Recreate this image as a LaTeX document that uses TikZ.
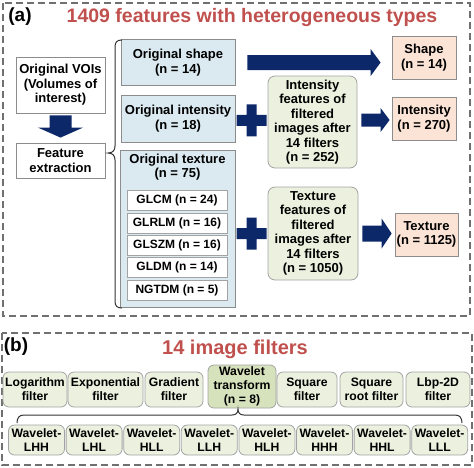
\documentclass[tikz,border=0pt]{standalone}
\usepackage{fontspec}
\setmainfont{Liberation Sans}
\usetikzlibrary{calc}
\definecolor{navy}{HTML}{0C2868}
\definecolor{titlered}{HTML}{C0504D}
\definecolor{lblue}{HTML}{DBEAF1}
\definecolor{peach}{HTML}{FBE4D6}
\definecolor{lgreen}{HTML}{EBF1DE}
\definecolor{dgreen}{HTML}{D5E2BC}
\definecolor{boxgray}{HTML}{8C8C8C}
\definecolor{framegray}{HTML}{707070}
\newcommand\harrow[5]{\fill[navy] let \p1=(#1), \p2=(#2) in
  (\x1,\y1+#3) -- (\x2-#5,\y1+#3) -- (\x2-#5,\y1+#4) -- (\x2,\y1) --
  (\x2-#5,\y1-#4) -- (\x2-#5,\y1-#3) -- (\x1,\y1-#3) -- cycle;}
\newcommand\plussign[1]{\fill[navy] let \p1=(#1) in
  (\x1-5pt,\y1+16pt) rectangle (\x1+5pt,\y1-16pt)
  (\x1-15pt,\y1+5.5pt) rectangle (\x1+15pt,\y1-5.5pt);}
\begin{document}
\begin{tikzpicture}[x=1pt,y=-1pt,
  every node/.style={font=\fontsize{13}{14.5}\selectfont\bfseries, align=center, inner sep=0.5pt},
  sz/.style 2 args={minimum width=#1pt, minimum height=#2pt},
  bluebox/.style={draw=boxgray, fill=lblue, line width=0.8pt},
  whitebox/.style={draw=boxgray, fill=white, line width=0.8pt},
  subbox/.style={draw=boxgray!80, fill=white, line width=0.8pt, font=\fontsize{12}{14}\selectfont\bfseries},
  peachbox/.style={draw=boxgray, fill=peach, line width=0.8pt},
  greenbox/.style={draw=boxgray!80, fill=lgreen, line width=0.8pt, rounded corners=7pt},
  bfont/.style={font=\fontsize{12.2}{14.2}\selectfont\bfseries},
  filterbox/.style={draw=boxgray!80, fill=lgreen, line width=0.8pt, rounded corners=6pt, sz={#1}{35}, bfont},
  wavbox/.style={draw=boxgray!80, fill=lgreen, line width=0.8pt, rounded corners=6pt, sz={56}{30}, bfont},
  frame/.style={draw=framegray, line width=2pt, dash pattern=on 7pt off 4pt},
  bracec/.style={draw=black!80, line width=1pt},
  title/.style={font=\fontsize{19.5}{22}\selectfont\bfseries, text=titlered},
  panellabel/.style={font=\fontsize{19}{21}\selectfont\bfseries}
]
\useasboundingbox (0,0) rectangle (474,467);

% panel frames
\draw[frame] (3,3) rectangle (470,316);
\draw[frame] (2,333) rectangle (472,465);

% ---------- panel (a)
\node[panellabel] (la) at (20,17) {(a)};
\node[title] (ta) at (252,17) {1409 features with heterogeneous types};

\node[whitebox, sz={89}{56}] (voi) at (60.5,85) {Original VOIs\\(Volumes of\\interest)};
\node[whitebox, sz={89}{35}] (feat) at (60.5,160.5) {Feature\\extraction};
\fill[navy] let \p1=(voi.south), \p2=(feat.north) in
  (\x1-11pt,\y1-2pt) -- (\x1-11pt,\y2+15pt) -- (\x1-22.5pt,\y2+15pt) -- (\x1,\y2+5pt) --
  (\x1+22.5pt,\y2+15pt) -- (\x1+11pt,\y2+15pt) -- (\x1+11pt,\y1-2pt) -- cycle;

\node[bluebox, sz={114}{46}] (oshape) at (178,62.5) {Original shape\\(n = 14)};
\node[bluebox, sz={114}{47}] (oint) at (178,118.5) {Original intensity\\(n = 18)};
\node[bluebox, sz={115}{157}] (otex) at (177.5,228.5) {};
\node (textitle) at (177.5,167) {Original texture\\(n = 75)};
\node[subbox, sz={100}{20}] (glcm) at (177,200.5) {GLCM (n = 24)};
\node[subbox, sz={100}{20}] (glrlm) at (177,223) {GLRLM (n = 16)};
\node[subbox, sz={100}{20}] (glszm) at (177,245) {GLSZM (n = 16)};
\node[subbox, sz={100}{20}] (gldm) at (177,267.5) {GLDM (n = 14)};
\node[subbox, sz={100}{20}] (ngtdm) at (177,290) {NGTDM (n = 5)};

% brace
\draw[bracec] (122,40) .. controls (117,40) and (115,42) .. (115,47) -- (115,146)
  .. controls (115,150) and (113,153) .. (108,153)
  .. controls (113,153) and (115,156) .. (115,160) -- (115,301)
  .. controls (115,306) and (117,308) .. (122,308);

\node[greenbox, sz={89}{92}] (intf) at (312.5,122) {Intensity\\features of\\filtered\\images after\\14 filters\\(n = 252)};
\node[greenbox, sz={90}{93}] (texf) at (313,233.5) {Texture\\features of\\filtered\\images after\\14 filters\\(n = 1050)};

\node[peachbox, sz={64}{43}] (shape) at (424,57.5) {Shape\\(n = 14)};
\node[peachbox, sz={64}{43}] (intensity) at (424,118.5) {Intensity\\(n = 270)};
\node[peachbox, sz={63}{43}] (texture) at (426.5,234.5) {Texture\\(n = 1125)};

\harrow{$(oshape.east)+(12,0)$}{$(shape.west)+(-11,0)$}{7.5pt}{13.5pt}{10pt}
\plussign{$(oint.east)!0.5!(intf.west)$}
\plussign{$(otex.east |- texf.west)!0.5!(texf.west)$}
\harrow{$(intf.east)+(4,-2)$}{$(intensity.west)+(-2,0)$}{6.5pt}{12pt}{9pt}
\harrow{$(texf.east)+(4,0)$}{$(texture.west)+(-3,0)$}{8pt}{15pt}{10pt}

% ---------- panel (b)
\node[panellabel] (lb) at (16,347) {(b)};
\node[title, font=\fontsize{20}{23}\selectfont\bfseries] (tb) at (235,349) {14 image filters};

\node[filterbox=64] (flog) at (35,389.5) {Logarithm\\filter};
\node[filterbox=75] (fexp) at (105.5,389.5) {Exponential\\filter};
\node[filterbox=58] (fgrad) at (174,389.5) {Gradient\\filter};
\node[draw=boxgray!80, fill=dgreen, line width=0.8pt, rounded corners=6pt, sz={68}{43}, bfont] (fwav) at (242,386.5) {Wavelet\\transform\\(n = 8)};
\node[filterbox=60] (fsq) at (307,389.5) {Square\\filter};
\node[filterbox=63] (fsqr) at (371.5,389.5) {Square\\root filter};
\node[filterbox=64] (flbp) at (438,389.5) {Lbp-2D\\filter};

\draw[bracec] (17,423) .. controls (17,418) and (19,415) .. (24,415) -- (232,415)
  .. controls (236,415) and (238,413) .. (238,409)
  .. controls (238,413) and (240,415) .. (244,415) -- (455,415)
  .. controls (460,415) and (462,418) .. (462,423);

\node[wavbox] (w1) at (36.5,440) {Wavelet-\\LHH};
\node[wavbox] (w2) at (94.1,440) {Wavelet-\\LHL};
\node[wavbox] (w3) at (151.7,440) {Wavelet-\\HLL};
\node[wavbox] (w4) at (209.3,440) {Wavelet-\\LLH};
\node[wavbox] (w5) at (266.9,440) {Wavelet-\\HLH};
\node[wavbox] (w6) at (324.5,440) {Wavelet-\\HHH};
\node[wavbox] (w7) at (382.1,440) {Wavelet-\\HHL};
\node[wavbox] (w8) at (439.7,440) {Wavelet-\\LLL};
\end{tikzpicture}
\end{document}
